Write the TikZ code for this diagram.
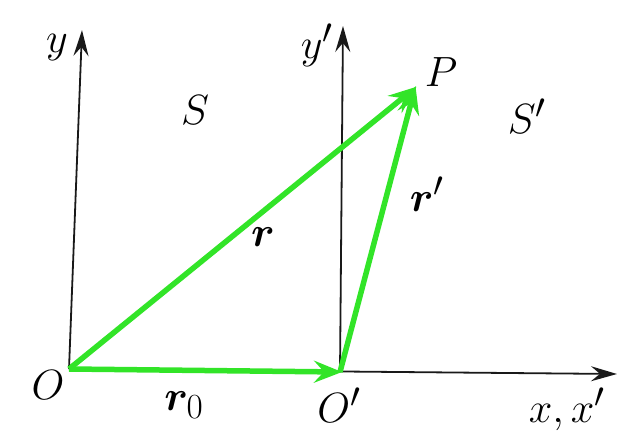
\documentclass[tikz,border=0pt]{standalone}
\usepackage{amsmath}
\usepackage{graphicx}
\usepackage{bm}
\usetikzlibrary{arrows.meta}
\definecolor{vgreen}{RGB}{50,228,40}
\definecolor{axisc}{RGB}{25,25,25}
\newcommand{\biglab}[1]{\scalebox{1.7}{\Huge$#1$}}
\begin{document}
\begin{tikzpicture}[x=1pt,y=-1pt,
  axis/.style={draw=axisc,line width=1.8pt,-{Stealth[length=26pt,width=15pt,inset=9pt]}},
  vec/.style={draw=vgreen,line width=5.5pt,-{Stealth[length=28pt,width=22pt,inset=10pt]},shorten >=-2pt},
  lab/.style={inner sep=0pt}]
\useasboundingbox (0,0) rectangle (638,446);
\coordinate (O) at (69,369);
\coordinate (Op) at (340,372);
\coordinate (P) at (415,88);
\coordinate (yt) at (82,30);
\coordinate (ypt) at (343,26);
\coordinate (xe) at (617,374);
\draw[axis] (O) -- (yt);
\draw[axis] (Op) -- (ypt);
\draw[axis] (O) -- (xe);
\draw[vec] (O) -- (P);
\draw[vec] (O) -- (Op);
\draw[vec] (Op) -- (P);
\node[lab] (lO) at (48,385) {\biglab{O}};
\node[lab] (lOp) at (339,405) {\biglab{O'}};
\node[lab] (ly) at (57,48) {\biglab{y}};
\node[lab] (lyp) at (317,45) {\biglab{y'}};
\node[lab] (lP) at (441,72) {\biglab{P}};
\node[lab] (lS) at (195,110) {\biglab{S}};
\node[lab] (lSp) at (527,116) {\biglab{S'}};
\node[lab] (lx) at (567,409) {\biglab{x,x'}};
\node[lab] (lr) at (263,237) {\biglab{\bm{r}}};
\node[lab] (lrp) at (427,194) {\biglab{\bm{r}'}};
\node[lab] (lr0) at (184,405) {\biglab{\bm{r}_0}};
\end{tikzpicture}
\end{document}
